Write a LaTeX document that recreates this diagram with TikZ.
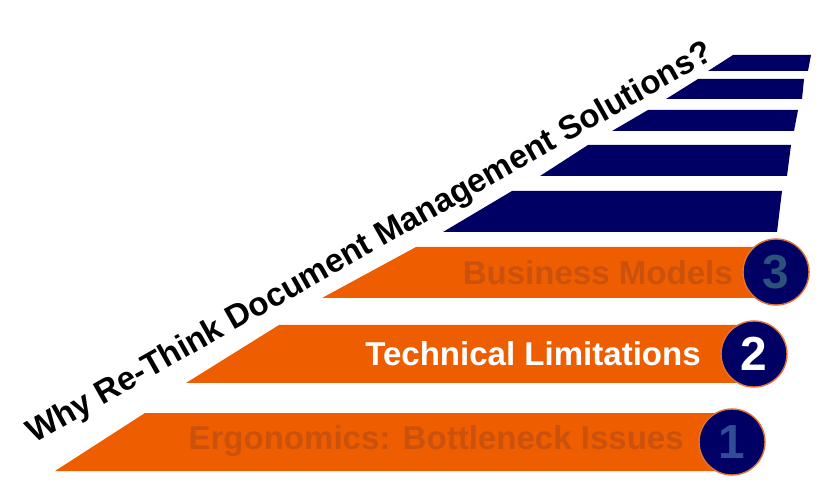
\documentclass[tikz,border=0pt]{standalone}
\usepackage{fontspec}
\setmainfont{Liberation Sans}
\usepackage{tikz}

\definecolor{barorange}{RGB}{238,94,0}
\definecolor{txtorange}{RGB}{203,82,12}
\definecolor{navy}{RGB}{0,0,100}
\definecolor{ringorange}{RGB}{225,115,55}
\definecolor{numsteel}{RGB}{42,82,122}
\definecolor{numblue}{RGB}{48,78,150}

\tikzset{
	label/.style={anchor=east, inner sep=0pt, font=\fontsize{23.5}{28}\selectfont\bfseries},
	num/.style={circle, fill=navy, draw=ringorange, line width=1pt, minimum size=66*0.025cm, inner sep=0pt, font=\fontsize{34}{40}\selectfont\bfseries}
}

\begin{document}
\begin{tikzpicture}[x=0.025cm, y=-0.025cm]
		\useasboundingbox (0,0) rectangle (820,503);
		% blaue Treppe
		\fill[navy] (443,232) -- (512,191) -- (782,191) -- (777,232) -- cycle;
		\fill[navy] (540,176) -- (588,145) -- (791,145) -- (787,176) -- cycle;
		\fill[navy] (612,131) -- (648,110) -- (798,110) -- (794,131) -- cycle;
		\fill[navy] (666,99) -- (698,79) -- (804,79) -- (802,99) -- cycle;
		\fill[navy] (708,71) -- (733,55) -- (811,55) -- (808,71) -- cycle;
		% orange Balken
		\fill[barorange] (55,471) -- (145,413) -- (732,413) -- (732,471) -- cycle;
		\fill[barorange] (186,383) -- (279,325) -- (754,325) -- (754,383) -- cycle;
		\fill[barorange] (322,298) -- (416,247) -- (776,247) -- (776,298) -- cycle;
		\begin{scope}
		\node[label, text=txtorange] (ergo) at (684,441) {Ergonomics: Bottleneck Issues};
		\node[label, text=white] (tech) at (701,354) {Technical Limitations};
		\node[label, text=txtorange] (biz) at (733,273) {Business Models};
		\node[num, text=numblue] (one) at (732,442) {1};
		\node[num, text=white] (two) at (754,354) {2};
		\node[num, text=numsteel] (three) at (776,272) {3};
		\end{scope}
		\node[rotate=29.5, anchor=base west, inner sep=0pt, font=\fontsize{23.5}{28}\selectfont\bfseries] (title) at (34,444) {Why Re-Think Document Management Solutions?};
	\end{tikzpicture}
\end{document}
